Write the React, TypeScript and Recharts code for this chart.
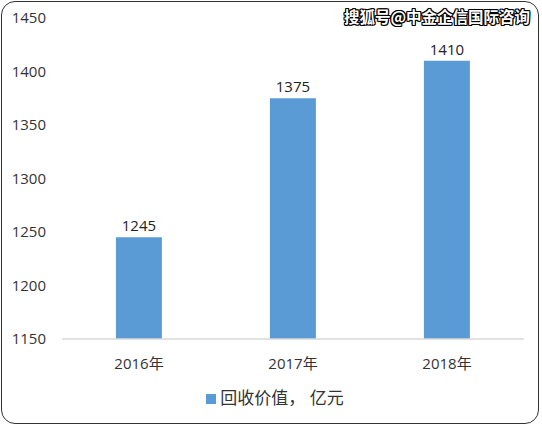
import React from "react"
import { BarChart, Bar, XAxis, YAxis, LabelList, Legend } from "recharts"

const years = ["2016年", "2017年", "2018年"]
const recovery = [1245, 1375, 1410]
const yTicks = [1150, 1200, 1250, 1300, 1350, 1400, 1450]

const data = years.map((year, i) => ({ year, value: recovery[i] }))

const font = "'Open Sans', 'Noto Sans CJK SC', sans-serif"

export default function App() {
  return (
    <div style={{ position: "fixed", left: 0, top: 0, width: 542, height: 427, background: "#fff", fontFamily: font }}>
      <BarChart width={542} height={427} data={data} margin={{ top: 18, right: 18, left: 0, bottom: 33 }} barCategoryGap="35%">
        <XAxis
          dataKey="year"
          axisLine={{ stroke: "#d9d9d9", strokeWidth: 1.5 }}
          tickLine={false}
          tick={{ fontSize: 15, fill: "#333", fontFamily: font }}
          tickMargin={13}
          height={30}
        />
        <YAxis
          domain={[1150, 1450]}
          ticks={yTicks}
          axisLine={false}
          tickLine={false}
          tickSize={0}
          tickMargin={16}
          width={62}
          tick={{ fontSize: 15, fill: "#333", fontFamily: font }}
        />
        <Legend
          verticalAlign="bottom"
          iconType="square"
          iconSize={10}
          wrapperStyle={{ bottom: 18, left: 18, fontSize: 17, fontFamily: font }}
          formatter={() => <span style={{ color: "#333" }}>回收价值， 亿元</span>}
        />
        <Bar dataKey="value" name="回收价值，亿元" fill="#5b9bd5" isAnimationActive={false}>
          <LabelList dataKey="value" position="top" offset={6} style={{ fontSize: 15, fill: "#222", fontFamily: font }} />
        </Bar>
      </BarChart>
      <div
        style={{
          position: "absolute", left: 1, top: 1, width: 536, height: 421,
          border: "1.5px solid #333", borderRadius: 14, pointerEvents: "none",
        }}
      />
      <div
        style={{
          position: "absolute", right: 12, top: 5, fontSize: 15.5, fontWeight: "bold", color: "#fff",
          fontFamily: "'Noto Sans CJK SC', sans-serif",
          textShadow: "1px 0 #000, -1px 0 #000, 0 1px #000, 0 -1px #000, 1px 1px #000, -1px -1px #000, 1px -1px #000, -1px 1px #000",
        }}
      >
        搜狐号@中金企信国际咨询
      </div>
    </div>
  )
}
